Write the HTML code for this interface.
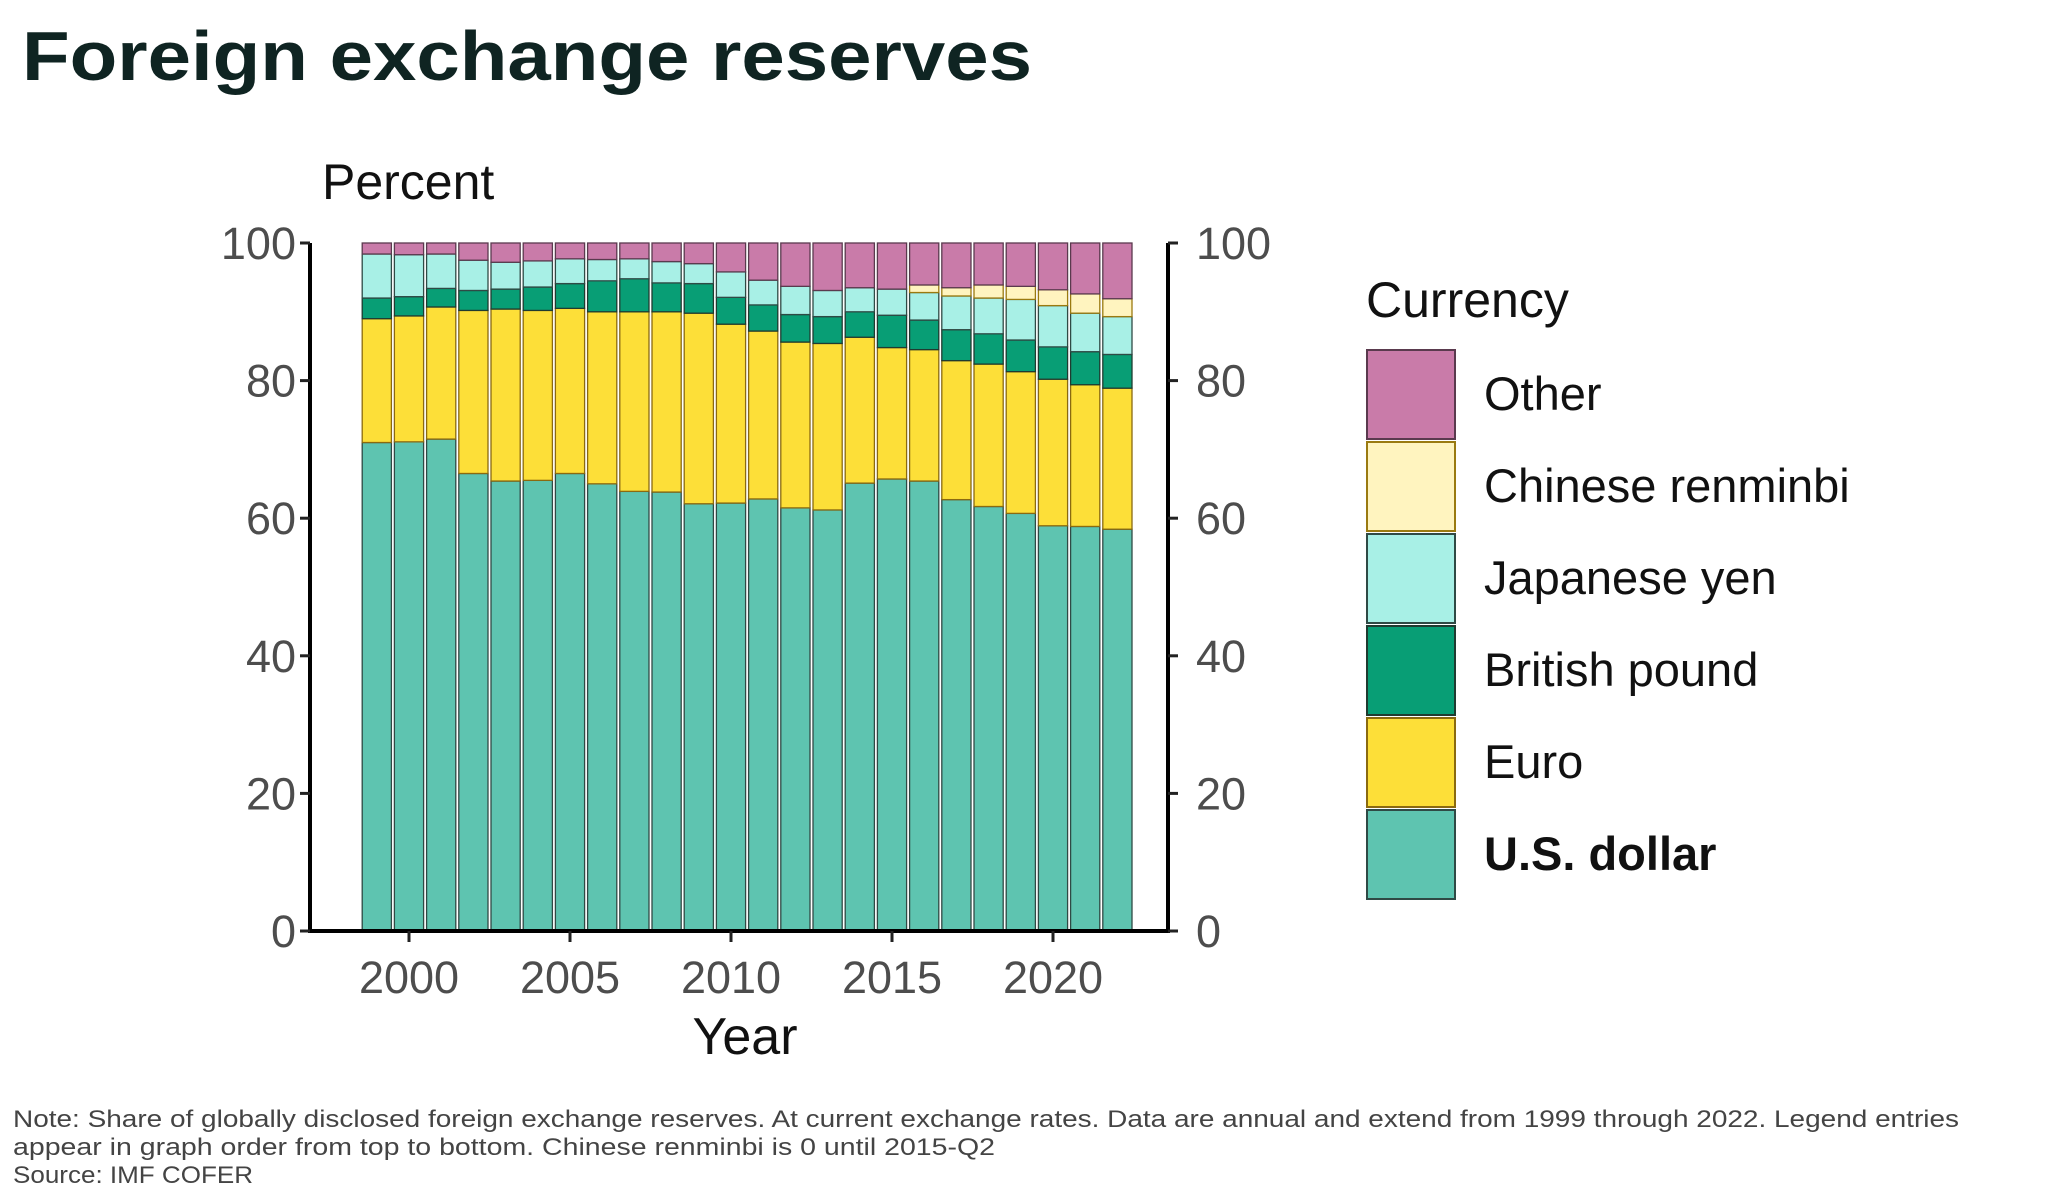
<!DOCTYPE html>
<html><head><meta charset="utf-8">
<style>
html,body{margin:0;padding:0;background:#fff;}
body{width:2048px;height:1198px;overflow:hidden;}
svg text{font-family:"Liberation Sans",sans-serif;}
</style></head>
<body>
<svg id="chart" width="2048" height="1198" viewBox="0 0 2048 1198" xmlns="http://www.w3.org/2000/svg">
<text x="22" y="80" font-size="70" font-weight="bold" fill="#0f2422" textLength="1010" lengthAdjust="spacingAndGlyphs">Foreign exchange reserves</text>
<text x="322" y="199" font-size="50" fill="#111">Percent</text>
<text x="745" y="1054" font-size="52" fill="#111" text-anchor="middle">Year</text>
<g id="bars"></g>
<g id="axes"></g>
<g id="legend"></g>
<text x="13" y="1127" font-size="24" fill="#444" textLength="1946" lengthAdjust="spacingAndGlyphs">Note: Share of globally disclosed foreign exchange reserves. At current exchange rates. Data are annual and extend from 1999 through 2022. Legend entries</text>
<text x="13" y="1155" font-size="24" fill="#444" textLength="982" lengthAdjust="spacingAndGlyphs">appear in graph order from top to bottom. Chinese renminbi is 0 until 2015-Q2</text>
<text x="13" y="1183" font-size="24" fill="#444" textLength="240" lengthAdjust="spacingAndGlyphs">Source: IMF COFER</text>
</svg>
<script>
const years = [1999,2000,2001,2002,2003,2004,2005,2006,2007,2008,2009,2010,2011,2012,2013,2014,2015,2016,2017,2018,2019,2020,2021,2022];
const usd = [71,71.1,71.5,66.5,65.4,65.5,66.5,65,63.9,63.8,62.1,62.2,62.8,61.5,61.2,65.1,65.7,65.4,62.7,61.7,60.7,58.9,58.8,58.4];
const eur = [18,18.3,19.2,23.7,25,24.7,24,25,26.1,26.2,27.7,26,24.4,24.1,24.2,21.2,19.1,19.1,20.2,20.7,20.6,21.3,20.6,20.5];
const gbp = [3,2.8,2.7,2.9,2.9,3.4,3.6,4.5,4.8,4.2,4.3,3.9,3.8,4,3.9,3.7,4.7,4.3,4.5,4.4,4.6,4.7,4.8,4.9];
const jpy = [6.4,6.1,5,4.4,3.9,3.8,3.6,3.1,2.9,3.1,2.9,3.7,3.6,4.1,3.8,3.5,3.8,4,4.9,5.2,5.9,6,5.6,5.5];
const cny = [0,0,0,0,0,0,0,0,0,0,0,0,0,0,0,0,0,1.1,1.2,1.9,1.9,2.3,2.8,2.6];
const yTicks = [0,20,40,60,80,100];
const xTicks = [2000,2005,2010,2015,2020];
const legendLabels = ["Other","Chinese renminbi","Japanese yen","British pound","Euro","U.S. dollar"];

const NS="http://www.w3.org/2000/svg";
const y0=931, y100=243, axL=310, axR=1168;
const yS=v=>y0-(v/100)*(y0-y100);
const pitch=32.2;
const xS=yr=>409+(yr-2000)*pitch;
const bw=pitch-3;
function mk(tag,attrs,parent){const e=document.createElementNS(NS,tag);for(const k in attrs)e.setAttribute(k,attrs[k]);parent.appendChild(e);return e;}
const series=[
 {name:"usd",vals:usd,fill:"#5ec4b0",stroke:"#2f4a45"},
 {name:"euro",vals:eur,fill:"#fddf38",stroke:"#8a6a10"},
 {name:"gbp",vals:gbp,fill:"#089e75",stroke:"#1f3b30"},
 {name:"jpy",vals:jpy,fill:"#a8f0e6",stroke:"#2f4a45"},
 {name:"cny",vals:cny,fill:"#fff4bf",stroke:"#9a7a10"},
];
const otherFill="#c97ba9";
const bars=document.getElementById('bars');
years.forEach((yr,i)=>{
  let cum=0;const x=xS(yr)-bw/2;
  series.forEach(s=>{
    const v=s.vals[i];if(v<=0)return;
    const r=mk('rect',{x:x,y:yS(cum+v),width:bw,height:yS(cum)-yS(cum+v),fill:s.fill,stroke:s.stroke,'stroke-width':1.3},bars);
    
    
    cum+=v;
  });
  const r=mk('rect',{x:x,y:yS(100),width:bw,height:yS(cum)-yS(100),fill:otherFill,stroke:"#5a3a4e",'stroke-width':1.3},bars);
  
  
});
const ax=document.getElementById('axes');
mk('line',{x1:axL,y1:y100,x2:axL,y2:y0+2,stroke:'#000','stroke-width':4},ax);
mk('line',{x1:axR,y1:y100,x2:axR,y2:y0+2,stroke:'#000','stroke-width':4},ax);
mk('line',{x1:axL-2,y1:y0,x2:axR+2,y2:y0,stroke:'#000','stroke-width':4},ax);
yTicks.forEach(t=>{
  const y=yS(t);
  mk('line',{x1:axL-10,y1:y,x2:axL,y2:y,stroke:'#222','stroke-width':3},ax);
  mk('line',{x1:axR,y1:y,x2:axR+10,y2:y,stroke:'#222','stroke-width':3},ax);
  const l=mk('text',{x:axL-14,y:y+16,'font-size':45,fill:'#4d4d4d','text-anchor':'end'},ax);l.textContent=t;
  
  
  const r=mk('text',{x:axR+28,y:y+16,'font-size':45,fill:'#4d4d4d'},ax);r.textContent=t;
  
  
});
xTicks.forEach(t=>{
  const x=xS(t);
  mk('line',{x1:x,y1:y0,x2:x,y2:y0+11,stroke:'#222','stroke-width':3},ax);
  const l=mk('text',{x:x,y:993,'font-size':45,fill:'#4d4d4d','text-anchor':'middle'},ax);l.textContent=t;
  
  
});
const lg=document.getElementById('legend');
const lt=mk('text',{x:1366,y:317,'font-size':50,fill:'#111'},lg);lt.textContent='Currency';


const lfills=[otherFill,"#fff4bf","#a8f0e6","#089e75","#fddf38","#5ec4b0"];
const lstrokes=["#5a3a4e","#9a7a10","#2f4a45","#1f3b30","#8a6a10","#2f4a45"];
legendLabels.forEach((lab,i)=>{
  const y=350+i*92;
  const k=mk('rect',{x:1367,y:y,width:88,height:89,fill:lfills[i],stroke:lstrokes[i],'stroke-width':2},lg);
  
  
  const t=mk('text',{x:1484,y:y+60,'font-size':47,fill:'#111','font-weight':i===5?'bold':'normal'},lg);t.textContent=lab;
  
  
});
</script>
</body></html>
